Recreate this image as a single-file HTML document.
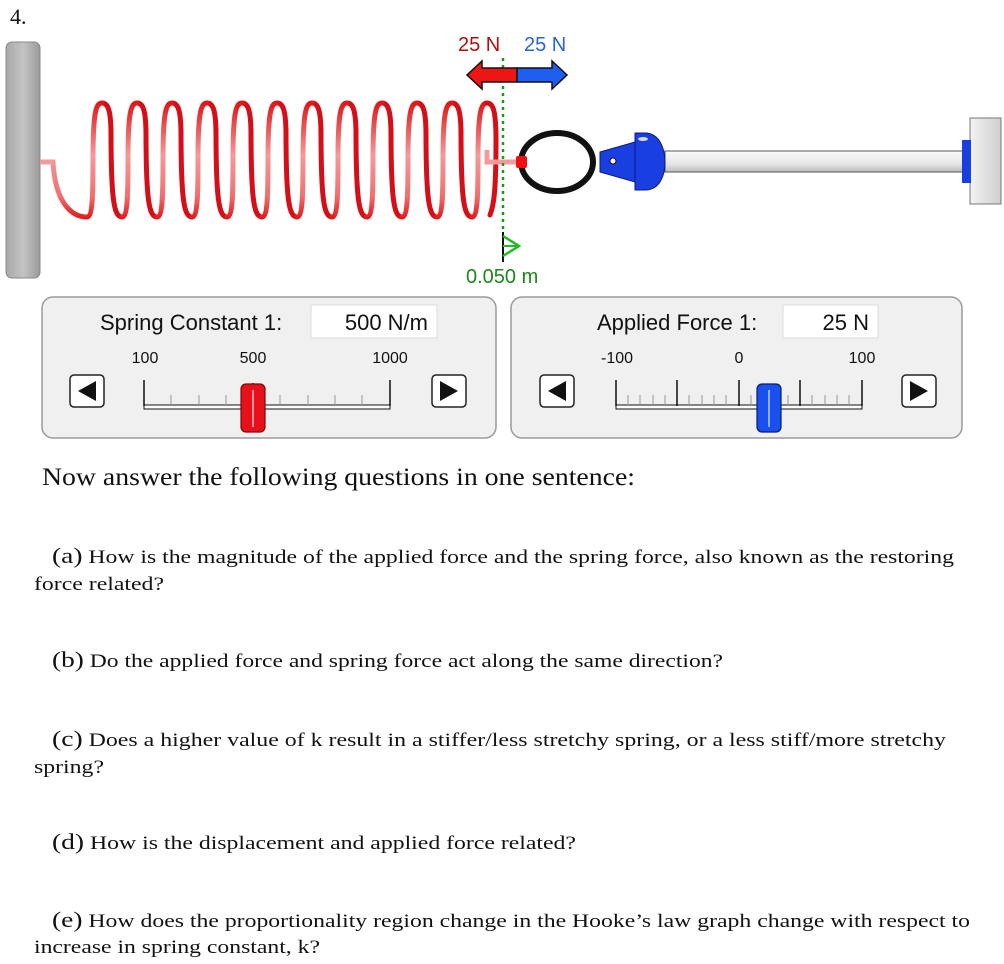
<!DOCTYPE html>
<html><head><meta charset="utf-8"><style>
html,body{margin:0;padding:0;background:#fff;}
svg{display:block;}
.s{font-family:"Liberation Sans",sans-serif;}
.q{font-family:"Liberation Serif",serif;font-size:19px;fill:#111;}
</style></head><body>
<svg width="1004" height="964" viewBox="0 0 1004 964" xmlns="http://www.w3.org/2000/svg">
<defs>
<linearGradient id="wall" x1="0" x2="1"><stop offset="0" stop-color="#a8a8a8"/><stop offset="0.5" stop-color="#c4c4c4"/><stop offset="1" stop-color="#9a9a9a"/></linearGradient>
<linearGradient id="rod" x1="0" y1="0" x2="0" y2="1"><stop offset="0" stop-color="#fafafa"/><stop offset="0.6" stop-color="#e6e6e6"/><stop offset="1" stop-color="#bdbdbd"/></linearGradient>
<linearGradient id="blk" x1="0" x2="1"><stop offset="0" stop-color="#f2f2f2"/><stop offset="1" stop-color="#cfcfcf"/></linearGradient>
<linearGradient id="front" gradientUnits="userSpaceOnUse" x1="0" y1="103" x2="0" y2="219"><stop offset="0" stop-color="#e01818"/><stop offset="0.45" stop-color="#f49a9a"/><stop offset="0.8" stop-color="#f07070"/><stop offset="1" stop-color="#e01818"/></linearGradient>
<g id="loop">
<path d="M111 130 C111 200 114 217 122 217" fill="none" stroke="#d40f18" stroke-width="5" stroke-linecap="round"/>
<path d="M102 103 C108 103 111 110 111 135" fill="none" stroke="#d40f18" stroke-width="5" stroke-linecap="round"/>
<path d="M87 217 C93 217 93 190 93 160 C93 112 96 103 102 103" fill="none" stroke="url(#front)" stroke-width="5" stroke-linecap="round"/>
</g>
</defs>
<text x="10" y="24" font-family="Liberation Serif,serif" font-size="22" fill="#111">4.</text>
<!-- wall -->
<rect x="6" y="42" width="34" height="236" rx="6" fill="url(#wall)" stroke="#888" stroke-width="1"/>
<!-- spring -->
<path d="M40 162 H53 C55 200 70 217 87 217" fill="none" stroke="url(#front)" stroke-width="5"/>
<path d="M40 162 H53" stroke="#f49a9a" stroke-width="5"/>
<use href="#loop"/>
<use href="#loop" x="35"/>
<use href="#loop" x="70"/>
<use href="#loop" x="105"/>
<use href="#loop" x="140"/>
<use href="#loop" x="175"/>
<use href="#loop" x="210"/>
<use href="#loop" x="245"/>
<use href="#loop" x="280"/>
<use href="#loop" x="315"/>
<use href="#loop" x="350"/>
<path d="M452 217 C458 217 458 190 458 160 C458 112 461 103 467 103" fill="none" stroke="url(#front)" stroke-width="5" stroke-linecap="round" transform="translate(20,0)"/>
<path d="M487 103 C493 103 496 110 496 140 C496 190 494 205 490 215" fill="none" stroke="#d40f18" stroke-width="5" stroke-linecap="round"/>
<path d="M487 150 V162 H521" fill="none" stroke="#f49a9a" stroke-width="5"/>
<!-- dotted line -->
<line x1="503" y1="58" x2="503" y2="232" stroke="#1a9a1a" stroke-width="2.5" stroke-dasharray="3,4"/>
<!-- force arrows -->
<path d="M517 68 H482 V61 L467 75 L482 89 V82 H517 Z" fill="#ee1515" stroke="#111" stroke-width="1.5"/>
<path d="M517 68 H552 V61 L567 75 L552 89 V82 H517 Z" fill="#1e5ef0" stroke="#111" stroke-width="1.5"/>
<text x="458" y="51" class="s" font-size="20" fill="#b01010">25 N</text>
<text x="524" y="51" class="s" font-size="20" fill="#2a64d8">25 N</text>
<!-- ring -->
<ellipse cx="557" cy="162" rx="36" ry="29" fill="none" stroke="#111" stroke-width="6"/>
<rect x="516" y="156" width="11" height="12" rx="2" fill="#ee1111"/>
<!-- handle -->
<path d="M600 152 L635 142 V182 L600 172 Z" fill="#1a3fe0" stroke="#0a1a80" stroke-width="1"/>
<circle cx="613" cy="161" r="3" fill="#fff" stroke="#111" stroke-width="1"/>
<rect x="665" y="151" width="300" height="21" fill="url(#rod)" stroke="#555" stroke-width="1"/>
<path d="M635 133 H645 C660 133 665 150 665 162 C665 175 660 190 645 190 H635 Z" fill="#1a3fe0" stroke="#0a1a80" stroke-width="1"/>
<ellipse cx="643" cy="139" rx="5" ry="2" fill="#cfd8ff"/>
<rect x="970" y="118" width="31" height="86" fill="url(#blk)" stroke="#777" stroke-width="1"/>
<rect x="962" y="140" width="9" height="43" fill="#1a3fe0"/>
<!-- displacement marker -->
<line x1="503" y1="232" x2="503" y2="262" stroke="#111" stroke-width="2"/>
<path d="M503 236 L519 246 L503 256" fill="none" stroke="#22bb22" stroke-width="2.5"/>
<line x1="503" y1="246" x2="518" y2="246" stroke="#22bb22" stroke-width="2"/>
<text x="466" y="283" class="s" font-size="20" fill="#1a8a1a">0.050 m</text>
<!-- left panel -->
<rect x="42" y="297" width="454" height="141" rx="11" fill="#f0f0f0" stroke="#9a9a9a" stroke-width="1.5"/>
<text x="100" y="330" class="s" font-size="22" fill="#111">Spring Constant 1:</text>
<rect x="311" y="305" width="126" height="33" fill="#fff" stroke="#ddd"/>
<text x="428" y="330" class="s" font-size="22" fill="#111" text-anchor="end">500 N/m</text>
<text x="145" y="363" class="s" font-size="16" fill="#111" text-anchor="middle">100</text>
<text x="253" y="363" class="s" font-size="16" fill="#111" text-anchor="middle">500</text>
<text x="390" y="363" class="s" font-size="16" fill="#111" text-anchor="middle">1000</text>
<rect x="70" y="375" width="34" height="32" rx="4" fill="#fff" stroke="#222" stroke-width="1.5"/>
<path d="M96 381 L78 391 L96 401 Z" fill="#111"/>
<rect x="432" y="375" width="34" height="32" rx="4" fill="#fff" stroke="#222" stroke-width="1.5"/>
<path d="M440 381 L458 391 L440 401 Z" fill="#111"/>
<rect x="144" y="405" width="246" height="4" fill="#fff" stroke="#111" stroke-width="1"/>
<g stroke="#111" stroke-width="1.5"><line x1="144" y1="380" x2="144" y2="406"/><line x1="390" y1="380" x2="390" y2="406"/><line x1="253" y1="383" x2="253" y2="406"/></g>
<g stroke="#999" stroke-width="1"><line x1="171" y1="395" x2="171" y2="405"/><line x1="199" y1="395" x2="199" y2="405"/><line x1="226" y1="395" x2="226" y2="405"/><line x1="280" y1="395" x2="280" y2="405"/><line x1="308" y1="395" x2="308" y2="405"/><line x1="335" y1="395" x2="335" y2="405"/><line x1="362" y1="395" x2="362" y2="405"/></g>
<rect x="241" y="384" width="24" height="48" rx="5" fill="#e8101a" stroke="#7a0a0a" stroke-width="1.2"/>
<line x1="253" y1="390" x2="253" y2="427" stroke="#ffc0c0" stroke-width="1.5"/>
<!-- right panel -->
<rect x="511" y="297" width="451" height="141" rx="11" fill="#f0f0f0" stroke="#9a9a9a" stroke-width="1.5"/>
<text x="597" y="330" class="s" font-size="22" fill="#111">Applied Force 1:</text>
<rect x="783" y="305" width="95" height="33" fill="#fff" stroke="#ddd"/>
<text x="869" y="330" class="s" font-size="22" fill="#111" text-anchor="end">25 N</text>
<text x="617" y="363" class="s" font-size="16" fill="#111" text-anchor="middle">-100</text>
<text x="739" y="363" class="s" font-size="16" fill="#111" text-anchor="middle">0</text>
<text x="862" y="363" class="s" font-size="16" fill="#111" text-anchor="middle">100</text>
<rect x="540" y="375" width="34" height="32" rx="4" fill="#fff" stroke="#222" stroke-width="1.5"/>
<path d="M566 381 L548 391 L566 401 Z" fill="#111"/>
<rect x="902" y="375" width="34" height="32" rx="4" fill="#fff" stroke="#222" stroke-width="1.5"/>
<path d="M910 381 L928 391 L910 401 Z" fill="#111"/>
<rect x="616" y="405" width="246" height="4" fill="#fff" stroke="#111" stroke-width="1"/>
<g stroke="#111" stroke-width="1.5"><line x1="616" y1="380" x2="616" y2="406"/><line x1="677" y1="380" x2="677" y2="406"/><line x1="739" y1="380" x2="739" y2="406"/><line x1="800" y1="380" x2="800" y2="406"/><line x1="862" y1="380" x2="862" y2="406"/></g>
<g stroke="#999" stroke-width="1"><line x1="628" y1="395" x2="628" y2="405"/><line x1="640" y1="395" x2="640" y2="405"/><line x1="653" y1="395" x2="653" y2="405"/><line x1="665" y1="395" x2="665" y2="405"/><line x1="689" y1="395" x2="689" y2="405"/><line x1="702" y1="395" x2="702" y2="405"/><line x1="714" y1="395" x2="714" y2="405"/><line x1="726" y1="395" x2="726" y2="405"/><line x1="751" y1="395" x2="751" y2="405"/><line x1="788" y1="395" x2="788" y2="405"/><line x1="812" y1="395" x2="812" y2="405"/><line x1="825" y1="395" x2="825" y2="405"/><line x1="837" y1="395" x2="837" y2="405"/><line x1="849" y1="395" x2="849" y2="405"/></g>
<rect x="757" y="384" width="24" height="48" rx="5" fill="#1a4ff0" stroke="#0a1a70" stroke-width="1.2"/>
<line x1="769" y1="390" x2="769" y2="427" stroke="#b8ccff" stroke-width="1.5"/>
<!-- text -->
<text x="42" y="485" font-family="Liberation Serif,serif" font-size="25" fill="#111" textLength="593" lengthAdjust="spacingAndGlyphs">Now answer the following questions in one sentence:</text>
<text x="52" y="563" class="q" textLength="902" lengthAdjust="spacingAndGlyphs"><tspan font-size="22">(a)</tspan> How is the magnitude of the applied force and the spring force, also known as the restoring</text>
<text x="34" y="590" class="q" textLength="130" lengthAdjust="spacingAndGlyphs">force related?</text>
<text x="52" y="667" class="q" textLength="671" lengthAdjust="spacingAndGlyphs"><tspan font-size="22">(b)</tspan> Do the applied force and spring force act along the same direction?</text>
<text x="52" y="746" class="q" textLength="894" lengthAdjust="spacingAndGlyphs"><tspan font-size="22">(c)</tspan> Does a higher value of k result in a stiffer/less stretchy spring, or a less stiff/more stretchy</text>
<text x="34" y="773" class="q" textLength="70" lengthAdjust="spacingAndGlyphs">spring?</text>
<text x="52" y="849" class="q" textLength="524" lengthAdjust="spacingAndGlyphs"><tspan font-size="22">(d)</tspan> How is the displacement and applied force related?</text>
<text x="52" y="927" class="q" textLength="918" lengthAdjust="spacingAndGlyphs"><tspan font-size="22">(e)</tspan> How does the proportionality region change in the Hooke’s law graph change with respect to</text>
<text x="34" y="953" class="q" textLength="286" lengthAdjust="spacingAndGlyphs">increase in spring constant, k?</text>
</svg>
</body></html>
